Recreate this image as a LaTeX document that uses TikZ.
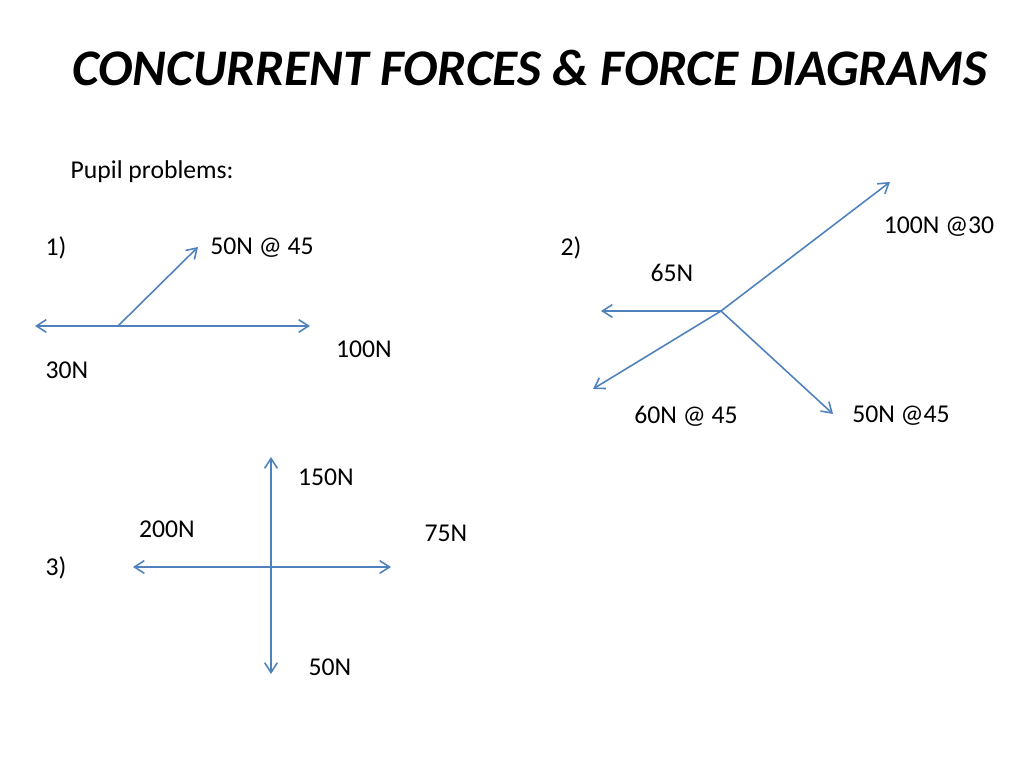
\documentclass[tikz,border=0pt]{standalone}
\usepackage{fontspec}
\setmainfont{Carlito}
\usetikzlibrary{arrows.meta}
\definecolor{forceblue}{RGB}{79,129,189}
\tikzset{
    force/.style={draw=forceblue, line width=0.45pt, -{Straight Barb[length=2.8pt,width=3.6pt]}},
    lbl/.style={inner sep=0pt, font=\fontsize{7.3pt}{8.8pt}\selectfont},
  }
\begin{document}
\begin{tikzpicture}[x=0.01cm,y=-0.01cm]
                                    \useasboundingbox (0,0) rectangle (1024,768);
                                    \node[inner sep=0pt, font=\fontsize{14.6pt}{17pt}\selectfont\bfseries\itshape] (title) at (530,68) {CONCURRENT FORCES \& FORCE DIAGRAMS};
                                    \node[lbl, anchor=west] (pupil) at (70,172) {Pupil problems:};
                                    %probleme 1
                                    \coordinate (O1) at (118,326);
                                    \coordinate (A1) at (35,326);
                                    \coordinate (B1) at (310,326);
                                    \coordinate (C1) at (198,247);
                                    \draw[force] (O1) -- (A1);
                                    \draw[force] (O1) -- (B1);
                                    \draw[force] (O1) -- (C1);
                                    \node[lbl] (n1) at (56,248) {1)};
                                    \node[lbl] (f1c) at (262,248) {50N @ 45};
                                    \node[lbl] (f1a) at (67,370) {30N};
                                    \node[lbl] (f1b) at (364,349) {100N};
                                    %probleme 2
                                    \coordinate (O2) at (721,311);
                                    \coordinate (A2) at (890,182);
                                    \coordinate (B2) at (601,311);
                                    \coordinate (C2) at (593,389);
                                    \coordinate (D2) at (833,414);
                                    \draw[force] (O2) -- (A2);
                                    \draw[force] (O2) -- (B2);
                                    \draw[force] (O2) -- (C2);
                                    \draw[force] (O2) -- (D2);
                                    \node[lbl] (n2) at (571,248) {2)};
                                    \node[lbl] (f2a) at (939,227) {100N @30};
                                    \node[lbl] (f2b) at (672,273) {65N};
                                    \node[lbl] (f2c) at (686,416) {60N @ 45};
                                    \node[lbl] (f2d) at (901,416) {50N @45};
                                    %probleme 3
                                    \coordinate (O3) at (271,567);
                                    \coordinate (A3) at (271,457);
                                    \coordinate (B3) at (271,674);
                                    \coordinate (C3) at (133,567);
                                    \coordinate (D3) at (391,567);
                                    \draw[force] (O3) -- (A3);
                                    \draw[force] (O3) -- (B3);
                                    \draw[force] (O3) -- (C3);
                                    \draw[force] (O3) -- (D3);
                                    \node[lbl] (n3) at (56,568) {3)};
                                    \node[lbl] (f3a) at (326,477) {150N};
                                    \node[lbl] (f3b) at (330,667) {50N};
                                    \node[lbl] (f3c) at (167,529) {200N};
                                    \node[lbl] (f3d) at (446,533) {75N};
\end{tikzpicture}
\end{document}
